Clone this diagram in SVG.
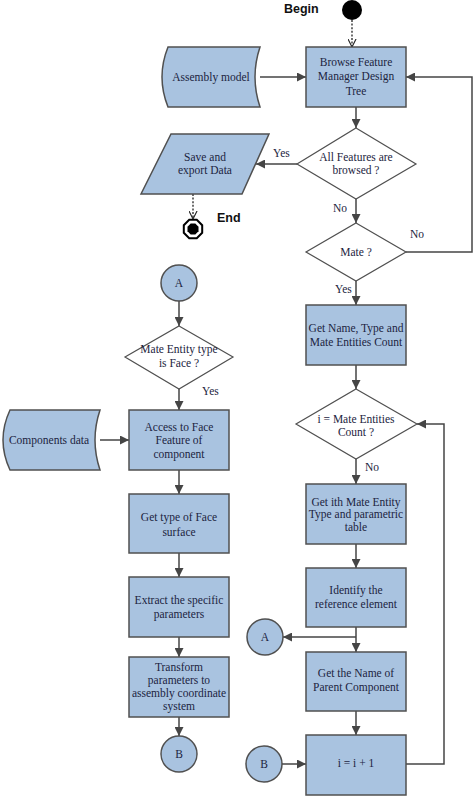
<svg xmlns="http://www.w3.org/2000/svg" width="474" height="796" viewBox="0 0 474 796">
<defs>
<style>
.box{fill:#a9c3e0;stroke:#505050;stroke-width:1.5}
.dia{fill:#ffffff;stroke:#505050;stroke-width:1.2}
.con{fill:none;stroke:#454545;stroke-width:1.5;marker-end:url(#ah)}
.dash{fill:none;stroke:#222;stroke-width:1.3;stroke-dasharray:2,1.6;marker-end:url(#open)}
.t{font-family:"Liberation Serif","Times New Roman",serif;font-size:11.5px;fill:#1c2440;text-anchor:middle}
.lb{font-family:"Liberation Serif","Times New Roman",serif;font-size:11.5px;fill:#1c2440}
.bold{font-family:"Liberation Sans",Arial,sans-serif;font-size:12.5px;font-weight:bold;fill:#111}
</style>
<marker id="ah" viewBox="0 0 10 10" refX="10" refY="5" markerWidth="9" markerHeight="9" markerUnits="userSpaceOnUse" orient="auto">
<path d="M0,0 L10,5 L0,10 Z" fill="#454545"/>
</marker>
<marker id="open" viewBox="0 0 10 10" refX="9" refY="5" markerWidth="9" markerHeight="9" markerUnits="userSpaceOnUse" orient="auto">
<path d="M0,0.5 L9,5 L0,9.5" fill="none" stroke="#222" stroke-width="1.2"/>
</marker>
</defs>
<rect width="474" height="796" fill="#ffffff"/>

<g id="connectors">
<line class="dash" x1="352" y1="20" x2="352" y2="47"/>
<line class="con" x1="260" y1="77" x2="306" y2="77"/>
<line class="con" x1="356" y1="107" x2="356" y2="128"/>
<line class="con" x1="297" y1="164" x2="256" y2="164"/>
<line class="dash" x1="193" y1="194" x2="193" y2="219"/>
<line class="con" x1="356" y1="199" x2="356" y2="223"/>
<polyline class="con" points="406,252 472,252 472,77 406,77"/>
<line class="con" x1="356" y1="281" x2="356" y2="305"/>
<line class="con" x1="356" y1="365" x2="356" y2="389"/>
<line class="con" x1="356" y1="459" x2="356" y2="484"/>
<line class="con" x1="356" y1="544" x2="356" y2="568"/>
<line class="con" x1="356" y1="627" x2="356" y2="652"/>
<line class="con" x1="356" y1="637" x2="283" y2="637"/>
<line class="con" x1="356" y1="711" x2="356" y2="735"/>
<line class="con" x1="282" y1="764" x2="306" y2="764"/>
<polyline class="con" points="406,764 444,764 444,424 417,424"/>
<line class="con" x1="179" y1="301" x2="179" y2="326"/>
<line class="con" x1="179" y1="389" x2="179" y2="410"/>
<line class="con" x1="100" y1="440" x2="129" y2="440"/>
<line class="con" x1="179" y1="470" x2="179" y2="494"/>
<line class="con" x1="179" y1="553" x2="179" y2="577"/>
<line class="con" x1="179" y1="637" x2="179" y2="657"/>
<line class="con" x1="179" y1="717" x2="179" y2="736"/>
<text class="lb" x="273" y="157">Yes</text>
<text class="lb" x="333" y="212">No</text>
<text class="lb" x="410" y="238">No</text>
<text class="lb" x="335" y="293">Yes</text>
<text class="lb" x="365" y="471">No</text>
<text class="lb" x="202" y="395">Yes</text>
</g>

<g id="begin">
<circle cx="352" cy="10" r="10" fill="#000"/>
<text class="bold" x="284" y="13">Begin</text>
</g>

<g id="end">
<polygon points="202.2,232.8 196.8,238.2 189.2,238.2 183.8,232.8 183.8,225.2 189.2,219.8 196.8,219.8 202.2,225.2" fill="#fff" stroke="#000" stroke-width="2"/>
<polygon points="198.5,231.3 195.3,234.5 190.7,234.5 187.5,231.3 187.5,226.7 190.7,223.5 195.3,223.5 198.5,226.7" fill="#000"/>
<text class="bold" x="217" y="222">End</text>
</g>

<g id="assembly-model">
<path class="box" d="M168,47 L260,47 Q250,77 260,107 L168,107 Q156,77 168,47 Z"/>
<text class="t" x="211" y="81">Assembly model</text>
</g>

<g id="browse">
<rect class="box" x="306" y="47" width="100" height="60"/>
<text class="t" x="356" y="66">Browse Feature</text>
<text class="t" x="356" y="80">Manager Design</text>
<text class="t" x="356" y="95">Tree</text>
</g>

<g id="all-features">
<polygon class="dia" points="356,128 416,164 356,199 297,164"/>
<text class="t" x="356" y="161">All Features are</text>
<text class="t" x="356" y="174">browsed ?</text>
</g>

<g id="save">
<polygon class="box" points="171,134 269,134 242,194 141,194"/>
<text class="t" x="205" y="161">Save and</text>
<text class="t" x="205" y="174">export Data</text>
</g>

<g id="mate">
<polygon class="dia" points="356,223 406,252 356,281 306,252"/>
<text class="t" x="356" y="256">Mate ?</text>
</g>

<g id="get-name">
<rect class="box" x="306" y="305" width="100" height="60"/>
<text class="t" x="356" y="332">Get Name, Type and</text>
<text class="t" x="356" y="346">Mate Entities Count</text>
</g>

<g id="i-count">
<polygon class="dia" points="356,389 417,424 356,459 296,424"/>
<text class="t" x="356" y="423">i = Mate Entities</text>
<text class="t" x="356" y="436">Count ?</text>
</g>

<g id="get-ith">
<rect class="box" x="306" y="484" width="100" height="60"/>
<text class="t" x="356" y="506">Get ith Mate Entity</text>
<text class="t" x="356" y="518">Type and parametric</text>
<text class="t" x="356" y="531">table</text>
</g>

<g id="identify">
<rect class="box" x="306" y="568" width="100" height="59"/>
<text class="t" x="356" y="594">Identify the</text>
<text class="t" x="356" y="608">reference element</text>
</g>

<g id="parent">
<rect class="box" x="306" y="652" width="100" height="59"/>
<text class="t" x="356" y="677">Get the Name of</text>
<text class="t" x="356" y="691">Parent Component</text>
</g>

<g id="increment">
<rect class="box" x="306" y="735" width="100" height="60"/>
<text class="t" x="356" y="767">i = i + 1</text>
</g>

<g id="connector-a-right">
<circle class="box" cx="265" cy="637" r="18"/>
<text class="t" x="265" y="641">A</text>
</g>

<g id="connector-b-right">
<circle class="box" cx="264" cy="764" r="18"/>
<text class="t" x="264" y="768">B</text>
</g>

<g id="connector-a-left">
<circle class="box" cx="179" cy="283" r="18"/>
<text class="t" x="179" y="287">A</text>
</g>

<g id="face-type">
<polygon class="dia" points="179,326 233,357 179,389 125,357"/>
<text class="t" x="179" y="353">Mate Entity type</text>
<text class="t" x="179" y="367">is Face ?</text>
</g>

<g id="components-data">
<path class="box" d="M10,410 L100,410 Q90,440 100,470 L10,470 Q-4,440 10,410 Z"/>
<text class="t" x="49" y="444">Components data</text>
</g>

<g id="access">
<rect class="box" x="129" y="410" width="100" height="60"/>
<text class="t" x="179" y="431">Access to Face</text>
<text class="t" x="179" y="444">Feature of</text>
<text class="t" x="179" y="458">component</text>
</g>

<g id="face-surface">
<rect class="box" x="129" y="494" width="100" height="59"/>
<text class="t" x="179" y="521">Get type of Face</text>
<text class="t" x="179" y="536">surface</text>
</g>

<g id="extract">
<rect class="box" x="129" y="577" width="100" height="60"/>
<text class="t" x="179" y="604">Extract the specific</text>
<text class="t" x="179" y="618">parameters</text>
</g>

<g id="transform">
<rect class="box" x="129" y="657" width="100" height="60"/>
<text class="t" x="179" y="671">Transform</text>
<text class="t" x="179" y="684">parameters to</text>
<text class="t" x="179" y="697">assembly coordinate</text>
<text class="t" x="179" y="710">system</text>
</g>

<g id="connector-b-left">
<circle class="box" cx="179" cy="754" r="18"/>
<text class="t" x="179" y="758">B</text>
</g>
</svg>
